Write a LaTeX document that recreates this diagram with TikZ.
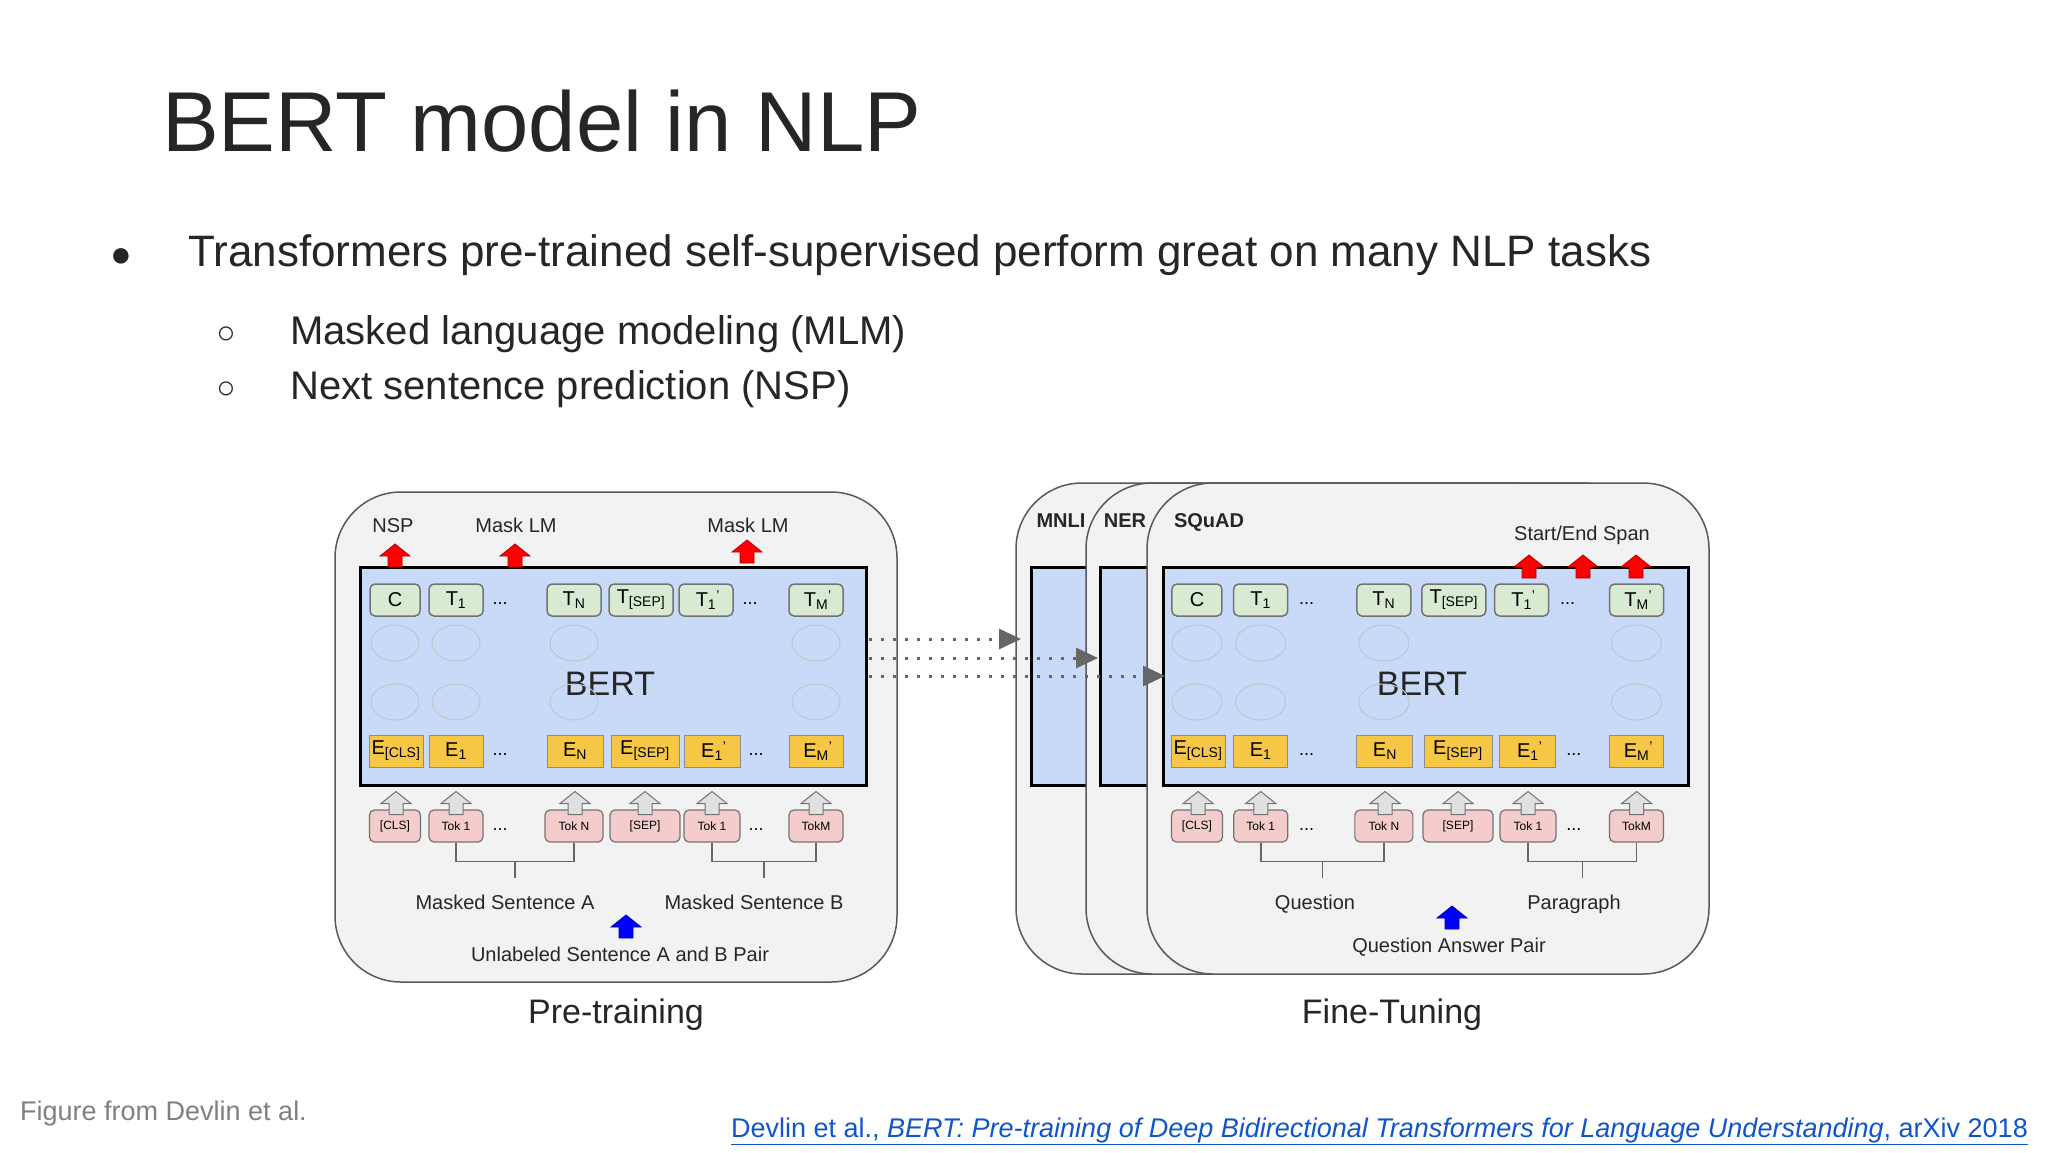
\documentclass[tikz,border=0pt]{standalone}
\usepackage{fontspec}
\setmainfont{Liberation Sans}
\usetikzlibrary{calc,arrows.meta}
\definecolor{bertblue}{HTML}{C9DAF8}
\definecolor{tg}{HTML}{D9EAD3}
\definecolor{ty}{HTML}{F6C744}
\definecolor{tp}{HTML}{F4CCCC}
\definecolor{panel}{HTML}{F2F2F2}
\definecolor{linkc}{HTML}{1155CC}
\tikzset{
  x=1pt,y=-1pt,
  txt/.style={inner sep=0,anchor=base,text=black!85},
  small/.style={txt,font=\fontsize{20}{20}\selectfont},
  card/.style={draw=black!65,fill=panel,line width=1.5,rounded corners=66},
  bert/.style={draw=black,fill=bertblue,line width=3},
  tokG/.style={draw=black!55,fill=tg,line width=1.5,rounded corners=5,minimum height=32,inner sep=0,font=\fontsize{20}{20}\selectfont},
  tokY/.style={draw=black!45,fill=ty,line width=1,minimum height=32,inner sep=0,font=\fontsize{20}{20}\selectfont},
  tokP/.style={draw=black!55,fill=tp,line width=1.2,rounded corners=5,minimum height=32,inner sep=0,font=\fontsize{12}{12}\selectfont},
  dots/.style={inner sep=0,font=\fontsize{18}{18}\selectfont},
  ghost/.style={draw=white!75!bertblue!80!black,line width=1},
  brk/.style={draw=black!60,line width=1.5},
  pics/uparr/.style={code={\path[pic actions] (-7,0) -- (-7,-11) -- (-15,-11) -- (0,-23) -- (15,-11) -- (7,-11) -- (7,0) -- cycle;}},
  dotarrow/.style={line width=3,black!60,dash pattern=on 3pt off 9pt,-{Triangle[length=22,width=20]}}
}
\newcommand\tk[3]{#1\textsubscript{#2}\makebox[0pt][l]{\raisebox{0.55ex}{\fontsize{14}{14}\selectfont #3}}}
\newcommand\tokrows[1]{%
  \foreach \x in {395,456,574,816}{
    \draw[ghost] (\x,643) ellipse (24 and 18);
    \draw[ghost] (\x,702) ellipse (24 and 18);
  }
  \node[tokG,minimum width=50] (#1c) at (395,600) {C};
  \node[tokG,minimum width=54] (#1t1) at (456,600) {\tk{T}{1}{}};
  \node[dots] at (500,604) {...};
  \node[tokG,minimum width=54] (#1tn) at (574,600) {\tk{T}{N}{}};
  \node[tokG,minimum width=64] (#1tsep) at (641,600) {\tk{T}{[SEP]}{}};
  \node[tokG,minimum width=54] (#1tp1) at (706,600) {\tk{T}{1}{'}};
  \node[dots] at (750,604) {...};
  \node[tokG,minimum width=54] (#1tpm) at (816,600) {\tk{T}{M}{'}};
  \node[tokY,minimum width=54] (#1ecls) at (396,751) {\tk{E}{[CLS]}{}};
  \node[tokY,minimum width=54] (#1e1) at (456,751) {\tk{E}{1}{}};
  \node[dots] at (500,755) {...};
  \node[tokY,minimum width=56] (#1en) at (575,751) {\tk{E}{N}{}};
  \node[tokY,minimum width=68] (#1esep) at (645,751) {\tk{E}{[SEP]}{}};
  \node[tokY,minimum width=56] (#1ep1) at (712,751) {\tk{E}{1}{'}};
  \node[dots] at (756,755) {...};
  \node[tokY,minimum width=54] (#1epm) at (816,751) {\tk{E}{M}{'}};
  \node[tokP,minimum width=51] (#1kcls) at (395,826) {[CLS]};
  \node[tokP,minimum width=54] (#1k1) at (456,826) {Tok 1};
  \node[dots] at (500,830) {...};
  \node[tokP,minimum width=58] (#1kn) at (574,826) {Tok N};
  \node[tokP,minimum width=70] (#1ksep) at (645,826) {[SEP]};
  \node[tokP,minimum width=56] (#1kp1) at (712,826) {Tok 1};
  \node[dots] at (756,830) {...};
  \node[tokP,minimum width=54] (#1kpm) at (816,826) {TokM};
  \foreach \n in {ecls,e1,en,esep,ep1,epm}{
    \path[draw=black!55,fill=black!12,line width=1] (#1\n.south) ++(0,47) pic[draw=black!55,fill=black!12,line width=1] {uparr};
  }
  \draw[brk] (#1k1.south) -- ++(0,19) -| (#1kn.south);
  \draw[brk] ($(#1k1.south)!0.5!(#1kn.south)+(0,19)$) coordinate (#1sa) -- ++(0,16);
  \draw[brk] (#1kp1.south) -- ++(0,19) -| (#1kpm.south);
  \draw[brk] ($(#1kp1.south)!0.5!(#1kpm.south)+(0,19)$) coordinate (#1sb) -- ++(0,16);
}
\begin{document}
\begin{tikzpicture}
\useasboundingbox[fill=white] (0,0) rectangle (2048,1152);
% header
\node[txt,anchor=base west,font=\fontsize{85}{90}\selectfont] (title) at (162,151) {BERT model in NLP};
\node[txt,anchor=base west,font=\fontsize{44}{50}\selectfont] (b1) at (188,266) {Transformers pre-trained self-supervised perform great on many NLP tasks};
\node[txt,anchor=base,font=\fontsize{36}{40}\selectfont] at (121,266) {●};
\node[txt,anchor=base west,font=\fontsize{40}{46}\selectfont] (b2) at (290,344) {Masked language modeling (MLM)};
\node[txt,anchor=base west,font=\fontsize{40}{46}\selectfont] (b3) at (290,399) {Next sentence prediction (NSP)};
\node[txt,anchor=base,font=\fontsize{32}{40}\selectfont] at (226,343) {○};
\node[txt,anchor=base,font=\fontsize{32}{40}\selectfont] at (226,398) {○};
% pre-training panel
\draw[card] (335,492) rectangle (897,982);
\draw[bert] (360,567) rectangle (866,785);
\node[txt,font=\fontsize{34}{34}\selectfont] (bertA) at (610,695) {BERT};
\tokrows{a}
\node[small] (nsp) at (393,532) {NSP};
\node[small] (mlm1) at (516,532) {Mask LM};
\node[small] (mlm2) at (748,532) {Mask LM};
\pic[fill=red,draw=red!70!black,line width=0.8] at (395,567) {uparr};
\pic[fill=red,draw=red!70!black,line width=0.8] at (515,567) {uparr};
\pic[fill=red,draw=red!70!black,line width=0.8] at (747,563) {uparr};
\node[small] (msa) at (505,909) {Masked Sentence A};
\node[small] (msb) at (754,909) {Masked Sentence B};
\pic[fill=blue,draw=blue!70!black,line width=0.8] at (626,938) {uparr};
\node[small] (unl) at (620,961) {Unlabeled Sentence A and B Pair};
\node[txt,font=\fontsize{34}{34}\selectfont] (pt) at (616,1023) {Pre-training};
% fine-tuning panels
\draw[card] (1016,483) rectangle (1578,974);
\draw[bert] (1031,567) rectangle (1557,785);
\draw[card] (1086,483) rectangle (1648,974);
\draw[bert] (1100,567) rectangle (1626,785);
\draw[card] (1147,483) rectangle (1709,974);
\draw[bert] (1163,567) rectangle (1688,785);
\node[txt,font=\bfseries\fontsize{20}{20}\selectfont] (mnli) at (1061,527) {MNLI};
\node[txt,font=\bfseries\fontsize{20}{20}\selectfont] (ner) at (1125,527) {NER};
\node[txt,font=\bfseries\fontsize{20}{20}\selectfont] (squad) at (1209,527) {SQuAD};
\node[txt,font=\fontsize{34}{34}\selectfont] (bertB) at (1422,695) {BERT};
\begin{scope}[xshift=784.6pt,xscale=1.044]
\tokrows{b}
\end{scope}
\node[small] (ses) at (1582,540) {Start/End Span};
\pic[fill=red,draw=red!70!black,line width=0.8] at (1529,578) {uparr};
\pic[fill=red,draw=red!70!black,line width=0.8] at (1583,578) {uparr};
\pic[fill=red,draw=red!70!black,line width=0.8] at (1636,578) {uparr};
\node[small] (q) at (1315,909) {Question};
\node[small] (p) at (1574,909) {Paragraph};
\pic[fill=blue,draw=blue!70!black,line width=0.8] at (1452,929) {uparr};
\node[small] (qap) at (1449,952) {Question Answer Pair};
\node[txt,font=\fontsize{34}{34}\selectfont] (ft) at (1392,1023) {Fine-Tuning};
% dotted arrows
\coordinate (d1s) at (869,639); \coordinate (d1e) at (1021,639);
\coordinate (d2s) at (869,658); \coordinate (d2e) at (1098,658);
\coordinate (d3s) at (869,676); \coordinate (d3e) at (1165,676);
\draw[dotarrow] (d1s) -- (d1e);
\draw[dotarrow] (d2s) -- (d2e);
\draw[dotarrow] (d3s) -- (d3e);
% footer
\node[txt,anchor=base west,text=black!50,font=\fontsize{27}{30}\selectfont] (fig) at (20,1120) {Figure from Devlin et al.};
\node[txt,anchor=base east,text=linkc,font=\fontsize{27}{30}\selectfont] (link) at (2028,1137) {\underline{Devlin et al., \textit{BERT: Pre-training of Deep Bidirectional Transformers for Language Understanding}, arXiv 2018}};
\end{tikzpicture}
\end{document}
